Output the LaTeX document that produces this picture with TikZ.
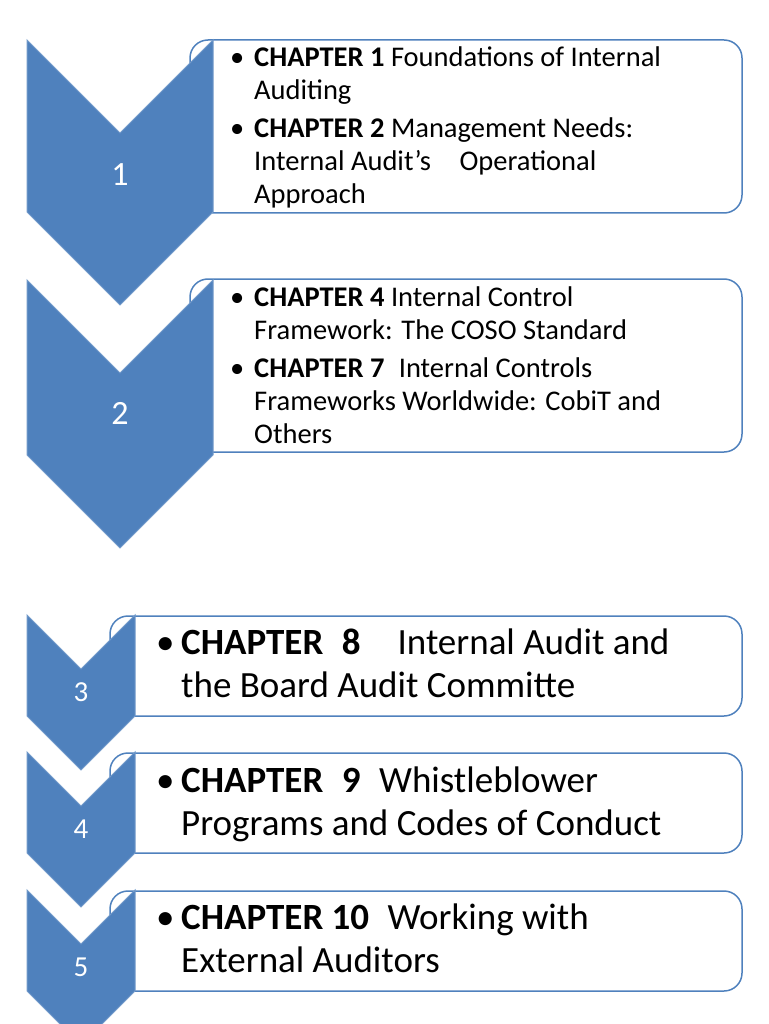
\documentclass[tikz,border=0pt]{standalone}
\usepackage{fontspec}
\setmainfont{Carlito}
\definecolor{cblue}{HTML}{4F81BD}
\begin{document}
\begin{tikzpicture}[x=1pt,y=-1pt,
  chev/.style={fill=cblue,draw=cblue!80!white,line width=1pt},
  box/.style={draw=cblue,fill=white,line width=1.5pt,rounded corners=18pt},
  num/.style={text=white,font=\fontsize{34}{34}\selectfont},
  sm/.style={anchor=base west,inner sep=0pt,font=\fontsize{28.5}{33}\selectfont},
  bg/.style={anchor=base west,inner sep=0pt,font=\fontsize{37}{43}\selectfont}]
\useasboundingbox (0,0) rectangle (768,1024);
\newcommand{\itm}[3]{\makebox[#1][l]{\textbullet}\parbox[t]{#2}{\raggedright #3}}
% boxes
\draw[box] (190,40) rectangle (742,213);
\draw[box] (190,279) rectangle (742,452);
\draw[box] (110,616) rectangle (742,716);
\draw[box] (110,753) rectangle (742,853);
\draw[box] (110,891) rectangle (742,991);
% chevrons
\draw[chev] (27,40)--(120,133)--(213,40)--(213,212)--(120,305)--(27,212)--cycle;
\draw[chev] (27,280)--(120,373)--(213,280)--(213,455)--(120,548)--(27,455)--cycle;
\draw[chev] (27,615)--(81,669)--(135,615)--(135,716)--(81,770)--(27,716)--cycle;
\draw[chev] (27,752)--(81,806)--(135,752)--(135,853)--(81,907)--(27,853)--cycle;
\draw[chev] (27,890)--(81,944)--(135,890)--(135,991)--(81,1045)--(27,991)--cycle;
\node[num] (n1) at (120,175) {1};
\node[num] (n2) at (120,413) {2};
\node[num,font=\fontsize{29}{29}\selectfont] (n3) at (81,692) {3};
\node[num,font=\fontsize{29}{29}\selectfont] (n4) at (81,829) {4};
\node[num,font=\fontsize{29}{29}\selectfont] (n5) at (81,967) {5};
% texts
\node[sm] (t1) at (230,67) {\itm{24pt}{480pt}{\textbf{CHAPTER 1} Foundations of Internal\\Auditing}};
\node[sm] (t2) at (230,138) {\itm{24pt}{480pt}{\textbf{CHAPTER 2} Management Needs:\\Internal Audit’s\quad Operational\\Approach}};
\node[sm] (t4) at (230,306) {\itm{24pt}{480pt}{\textbf{CHAPTER 4} Internal Control\\Framework: The COSO Standard}};
\node[sm] (t7) at (230,377) {\itm{24pt}{480pt}{\textbf{CHAPTER 7}\enspace Internal Controls\\Frameworks Worldwide: CobiT and\\Others}};
\node[bg] (t8) at (156,654) {\itm{25pt}{570pt}{\textbf{CHAPTER\enspace 8}\quad Internal Audit and\\the Board Audit Committe}};
\node[bg] (t9) at (156,792) {\itm{25pt}{570pt}{\textbf{CHAPTER\enspace 9}\enspace Whistleblower\\Programs and Codes of Conduct}};
\node[bg] (t10) at (156,929) {\itm{25pt}{570pt}{\textbf{CHAPTER 10}\enspace Working with\\External Auditors}};
\end{tikzpicture}
\end{document}
